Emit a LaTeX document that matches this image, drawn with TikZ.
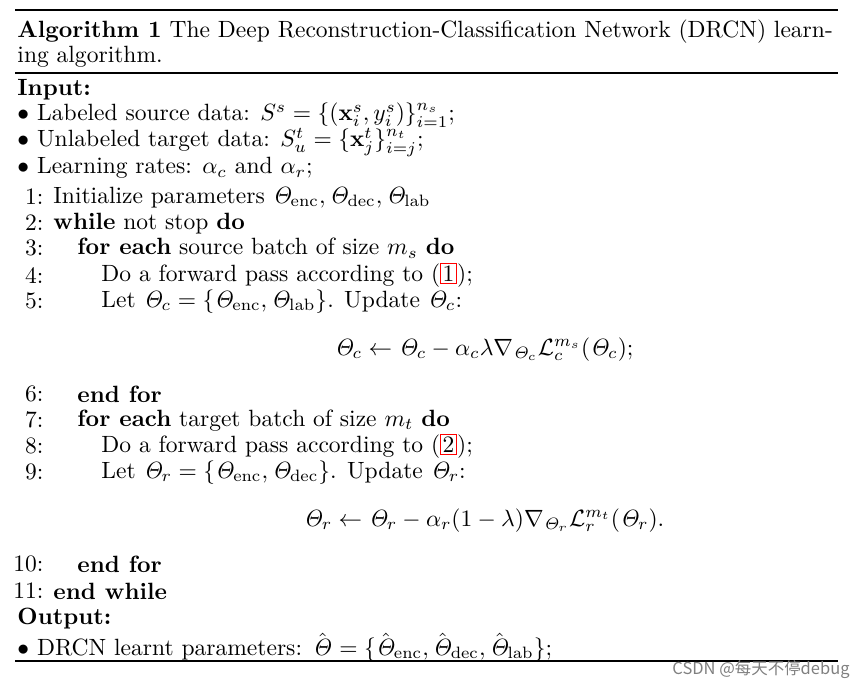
\documentclass[tikz,border=0pt]{standalone}
\usepackage{amsmath,amssymb}
\usepackage[no-math]{fontspec}
\newfontfamily\cjk{Noto Sans CJK SC}
\newcommand{\rbx}[1]{{\setlength\fboxsep{0.6pt}\setlength\fboxrule{0.5pt}\fcolorbox{red}{white}{#1}}}
\newcommand{\Th}{\mathit{\Theta}}
\begin{document}
\begin{tikzpicture}[x=0.425pt,y=-0.425pt,
  tx/.style={anchor=west,inner sep=0pt,font=\fontsize{10}{12}\selectfont},
  nm/.style={anchor=east,inner sep=0pt,font=\fontsize{10}{12}\selectfont},
  rl/.style={line width=0.5pt}]
\useasboundingbox (0,0) rectangle (865,690);
\coordinate (r1a) at (15,10); \coordinate (r1b) at (838,10);
\coordinate (r2a) at (15,73); \coordinate (r2b) at (838,73);
\coordinate (r3a) at (15,661); \coordinate (r3b) at (838,661);
\draw[line width=0.8pt] (r1a)--(r1b);
\draw[rl] (r2a)--(r2b);
\draw[rl] (r3a)--(r3b);
\begin{scope}[yshift=-0.9pt]
\node[tx] (t1) at (17,29) {\textbf{Algorithm 1} The Deep Reconstruction-Classification Network (DRCN) learn-};
\node[tx] (t2) at (17,55) {ing algorithm.};
\node[tx] (in) at (17,88) {\textbf{Input:}};
\node[tx] (b1) at (17,113) {$\bullet$ Labeled source data: $S^s=\{(\mathbf{x}_i^s,y_i^s)\}_{i=1}^{n_s}$;};
\node[tx] (b2) at (17,140) {$\bullet$ Unlabeled target data: $S_u^t=\{\mathbf{x}_j^t\}_{i=j}^{n_t}$;};
\node[tx] (b3) at (17,166) {$\bullet$ Learning rates: $\alpha_c$ and $\alpha_r$;};
\node[nm] (n1) at (44,195) {1:}; \node[tx] (s1) at (53,195) {Initialize parameters $\Th_{\mathrm{enc}},\Th_{\mathrm{dec}},\Th_{\mathrm{lab}}$};
\node[nm] (n2) at (44,221) {2:}; \node[tx] (s2) at (53,221) {\textbf{while} not stop \textbf{do}};
\node[nm] (n3) at (44,246) {3:}; \node[tx] (s3) at (77,246) {\textbf{for each} source batch of size $m_s$ \textbf{do}};
\node[nm] (n4) at (44,273) {4:}; \node[tx] (s4) at (101,273) {Do a forward pass according to (\rbx{1});};
\node[nm] (n5) at (44,299) {5:}; \node[tx] (s5) at (101,299) {Let $\Th_c=\{\Th_{\mathrm{enc}},\Th_{\mathrm{lab}}\}$. Update $\Th_c$:};
\node[inner sep=0pt,font=\fontsize{10}{12}\selectfont] (e1) at (484,347) {$\Th_c\leftarrow\Th_c-\alpha_c\lambda\nabla_{\Th_c}\mathcal{L}_c^{m_s}(\Th_c);$};
\node[nm] (n6) at (44,392) {6:}; \node[tx] (s6) at (77,392) {\textbf{end for}};
\node[nm] (n7) at (44,418) {7:}; \node[tx] (s7) at (77,418) {\textbf{for each} target batch of size $m_t$ \textbf{do}};
\node[nm] (n8) at (44,444) {8:}; \node[tx] (s8) at (101,444) {Do a forward pass according to (\rbx{2});};
\node[nm] (n9) at (44,470) {9:}; \node[tx] (s9) at (101,470) {Let $\Th_r=\{\Th_{\mathrm{enc}},\Th_{\mathrm{dec}}\}$. Update $\Th_r$:};
\node[inner sep=0pt,font=\fontsize{10}{12}\selectfont] (e2) at (484,518) {$\Th_r\leftarrow\Th_r-\alpha_r(1-\lambda)\nabla_{\Th_r}\mathcal{L}_r^{m_t}(\Th_r).$};
\node[nm] (n10) at (44,562) {10:}; \node[tx] (s10) at (77,562) {\textbf{end for}};
\node[nm] (n11) at (44,589) {11:}; \node[tx] (s11) at (53,589) {\textbf{end while}};
\node[tx] (out) at (17,616) {\textbf{Output:}};
\node[tx] (b4) at (17,645) {$\bullet$ DRCN learnt parameters: $\hat{\Th}=\{\hat{\Th}_{\mathrm{enc}},\hat{\Th}_{\mathrm{dec}},\hat{\Th}_{\mathrm{lab}}\}$;};
\end{scope}
\node[anchor=east,inner sep=0pt,text=gray,font=\cjk\fontsize{7}{8}\selectfont] (wm) at (850,670) {CSDN @每天不停debug};
\end{tikzpicture}
\end{document}
